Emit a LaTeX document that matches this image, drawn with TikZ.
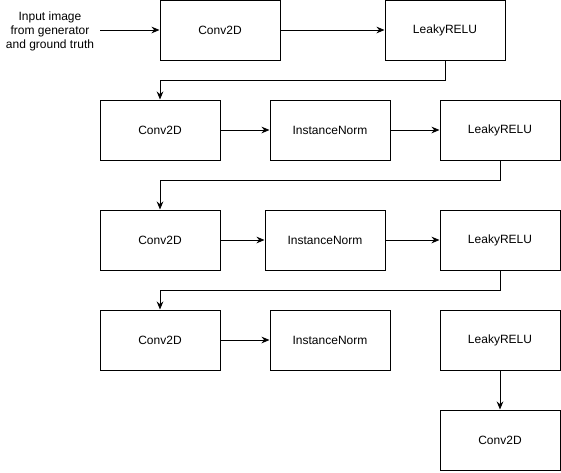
\documentclass[tikz,border=0pt]{standalone}
\usepackage{fontspec}
\setmainfont{Liberation Sans}
\usetikzlibrary{arrows.meta}

\begin{document}
\begin{tikzpicture}[x=0.75pt,y=-0.75pt]
    \begin{scope}[line width=0.75pt,font=\fontsize{9}{10.5}\selectfont,
        layer/.style={draw,minimum width=90pt,minimum height=45pt,inner sep=0pt},
        >={Stealth[length=6pt,width=5pt]}]
        \useasboundingbox (0,0) rectangle (561,472);
        \node [align=center] (input) at (50,31) {Input image\\from generator\\and ground truth};
        \coordinate (inend) at (100,30);

        \node [layer] (conva) at (220,30)  {Conv2D};
        \node [layer] (relua) at (445,30)  {LeakyRELU};
        \node [layer] (convb) at (160,130) {Conv2D};
        \node [layer] (normb) at (330,130) {InstanceNorm};
        \node [layer] (relub) at (500,130) {LeakyRELU};
        \node [layer] (convc) at (160,240) {Conv2D};
        \node [layer] (normc) at (325,240) {InstanceNorm};
        \node [layer] (reluc) at (500,240) {LeakyRELU};
        \node [layer] (convd) at (160,340) {Conv2D};
        \node [layer] (normd) at (330,340) {InstanceNorm};
        \node [layer] (relud) at (500,340) {LeakyRELU};
        \node [layer] (conve) at (500,440) {Conv2D};

        \draw [->] (inend) -- (conva);
        \foreach \a/\b in {conva/relua,convb/normb,normb/relub,%
            convc/normc,normc/reluc,convd/normd,relud/conve}{%
            \draw [->] (\a) -- (\b);
        }

        \foreach \a/\b in {relua/convb,relub/convc,reluc/convd}{%
            \draw [->] (\a.south) -- ++(0,20) -| (\b.north);
        }
    \end{scope}
\end{tikzpicture}
\end{document}
